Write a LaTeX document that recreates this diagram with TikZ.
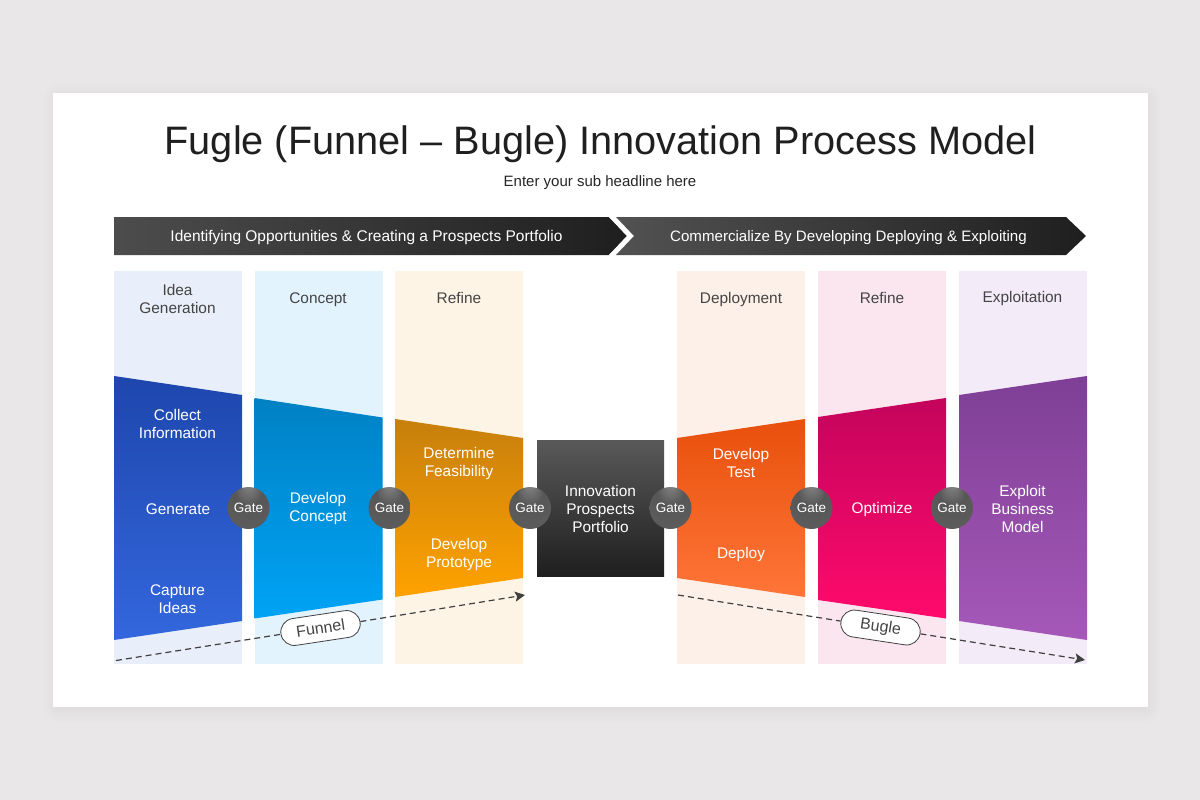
\documentclass[tikz,border=0pt]{standalone}
\usepackage{fontspec}
\setmainfont{Liberation Sans}
\usetikzlibrary{arrows.meta,shapes.misc}
\definecolor{bgc}{HTML}{E9E7E8}
\definecolor{txtc}{HTML}{444444}
\definecolor{la}{HTML}{E8EEFA}\definecolor{lb}{HTML}{E3F3FD}\definecolor{lc}{HTML}{FDF4E6}
\definecolor{ld}{HTML}{FDF0E8}\definecolor{le}{HTML}{FBE6F0}\definecolor{lf}{HTML}{F3EBF8}
\definecolor{at}{HTML}{1E46AD}\definecolor{ab}{HTML}{3367DD}
\definecolor{bt}{HTML}{0081C4}\definecolor{bb}{HTML}{00A3F5}
\definecolor{ct}{HTML}{C77F0C}\definecolor{cb}{HTML}{FFA200}
\definecolor{dt}{HTML}{E8500C}\definecolor{db}{HTML}{FF7538}
\definecolor{et}{HTML}{C4045C}\definecolor{eb}{HTML}{FF0A6C}
\definecolor{ft}{HTML}{7F3F96}\definecolor{fb}{HTML}{A558B8}
\pgfdeclareradialshading{gateball}{\pgfpoint{0bp}{28bp}}{
 color(0bp)=(black!48!white);
 color(9bp)=(black!58!white);
 color(16bp)=(black!66!white);
 color(50bp)=(black!62!white)}
\tikzset{
 every node/.style={font=\fontsize{15.4}{18}\selectfont,align=center,inner sep=0pt},
 lbl/.style={text=white},
 head/.style={text=txtc},
 gate/.style={circle,minimum size=42pt,shading=gateball,text=white,font=\fontsize{13.5}{16}\selectfont},
 pill/.style={draw=black!75,line width=.8pt,fill=white,rounded rectangle,minimum width=80pt,minimum height=27pt,text=txtc,font=\fontsize{16}{18}\selectfont},
 flow/.style={dash pattern=on 6pt off 4pt,draw=black!75,line width=1.2pt,-{Stealth[length=10pt,width=10pt,inset=2pt]}},
}
\newcommand{\softshadow}[2][.0018]{\foreach \w in {4,8,...,28}{\draw[line width=\w pt,black,opacity=#1,line join=round] #2;}}
\newcommand{\lightpanel}[2]{\fill[#2] (#1,271) rectangle ++(128,393);}
\begin{document}
\begin{tikzpicture}[x=1pt,y=-1pt]
\useasboundingbox (0,0) rectangle (1200,800);
\fill[bgc] (0,0) rectangle (1200,800);
% card
\foreach \w in {3,6,...,30}{\draw[line width=\w pt,black,opacity=.004,line join=round] (58,99) rectangle (1146,707);}
\fill[white] (53,93) rectangle (1148,707);
% title
\node (title) at (600.5,144) {\fontsize{39.7}{44}\selectfont\color{black!88}Fugle (Funnel -- Bugle) Innovation Process Model};
\node (sub) at (600,183) {\fontsize{15}{18}\selectfont\color{black!85}Enter your sub headline here};
% arrow band
\softshadow{(114,217) -- (609,217) -- (627,236) -- (609,255) -- (114,255) -- cycle}
\softshadow{(616,217) -- (1066,217) -- (1086,236) -- (1066,255) -- (616,255) -- cycle}
\shade[left color=black!70,right color=black!88] (114,217) -- (609,217) -- (627,236) -- (609,255) -- (114,255) -- cycle;
\fill[white] (609,217) -- (616,217) -- (634,236) -- (616,255) -- (609,255) -- (627,236) -- cycle;
\shade[left color=black!68,right color=black!88] (616,217) -- (1066,217) -- (1086,236) -- (1066,255) -- (616,255) -- (634,236) -- cycle;
\node[lbl] (bandA) at (366.5,237) {\fontsize{15.5}{18}\selectfont Identifying Opportunities \& Creating a Prospects Portfolio};
\node[lbl] (bandB) at (848.5,238) {\fontsize{15.1}{18}\selectfont Commercialize By Developing Deploying \& Exploiting};
% light panels
\lightpanel{114}{la}
\lightpanel{254.5}{lb}
\lightpanel{395}{lc}
\lightpanel{677}{ld}
\lightpanel{818}{le}
\lightpanel{959}{lf}
% coloured panels
\softshadow{(114,376) -- (242,395) -- (242,621) -- (114,640) -- cycle}
\softshadow{(254.5,398) -- (382.5,417.5) -- (382.5,599.5) -- (254.5,618.5) -- cycle}
\softshadow{(395,419) -- (523,438) -- (523,578) -- (395,597) -- cycle}
\softshadow{(677,438) -- (805,419) -- (805,597) -- (677,578) -- cycle}
\softshadow{(818,417) -- (946,398) -- (946,618.5) -- (818,600) -- cycle}
\softshadow{(959,395) -- (1087,376) -- (1087,640) -- (959,621) -- cycle}
\softshadow{(537,440) rectangle (664,576)}
\shade[top color=at,bottom color=ab] (114,376) -- (242,395) -- (242,621) -- (114,640) -- cycle;
\shade[top color=bt,bottom color=bb] (254.5,398) -- (382.5,417.5) -- (382.5,599.5) -- (254.5,618.5) -- cycle;
\shade[top color=ct,bottom color=cb] (395,419) -- (523,438) -- (523,578) -- (395,597) -- cycle;
\shade[top color=dt,bottom color=db] (677,438) -- (805,419) -- (805,597) -- (677,578) -- cycle;
\shade[top color=et,bottom color=eb] (818,417) -- (946,398) -- (946,618.5) -- (818,600) -- cycle;
\shade[top color=ft,bottom color=fb] (959,395) -- (1087,376) -- (1087,640) -- (959,621) -- cycle;
\shade[top color=black!65,bottom color=black!88] (537,440) rectangle (664,576);
% headings
\node[head] (h1) at (177.5,298.5) {Idea\\Generation};
\node[head] (h2) at (318,300) {Concept};
\node[head] (h3) at (459,298) {Refine};
\node[head] (h4) at (741,299.5) {Deployment};
\node[head] (h5) at (882,298) {Refine};
\node[head] (h6) at (1022.5,299) {Exploitation};
% labels
\node[lbl] (l1) at (177.5,423.5) {Collect\\Information};
\node[lbl] (l2) at (178,509) {Generate};
\node[lbl] (l3) at (177.5,599.5) {Capture\\Ideas};
\node[lbl] (l4) at (318,509) {Develop\\Concept};
\node[lbl] (l5) at (459,463.5) {Determine\\Feasibility};
\node[lbl] (l6) at (459,554.5) {Develop\\Prototype};
\node[lbl] (center) at (600.5,508.5) {Innovation\\Prospects\\Portfolio};
\node[lbl] (l7) at (741,463) {Develop\\Test};
\node[lbl] (l8) at (741,555) {Deploy};
\node[lbl] (l9) at (882,509.5) {Optimize};
\node[lbl] (l10) at (1022.5,508.5) {Exploit\\Business\\Model};
% gates
\node[gate] (g1) at (248.5,508) {\raisebox{-1pt}{Gate}};
\node[gate] (g2) at (389.5,508) {\raisebox{-1pt}{Gate}};
\node[gate] (g3) at (530,508) {\raisebox{-1pt}{Gate}};
\node[gate] (g4) at (670.5,508) {\raisebox{-1pt}{Gate}};
\node[gate] (g5) at (811.5,508) {\raisebox{-1pt}{Gate}};
\node[gate] (g6) at (952,508) {\raisebox{-1pt}{Gate}};
% flow arrows
\coordinate (fs) at (116,660.5);
\coordinate (fe) at (525,595);
\coordinate (bs) at (678,595);
\coordinate (be) at (1085,660);
\node[pill,rotate=8.6] (funnel) at (320.5,628) {Funnel};
\node[pill,rotate=-8.6] (bugle) at (880.5,627.5) {Bugle};
\draw[flow,-] (fs) -- (funnel);
\draw[flow] (funnel) -- (fe);
\draw[flow,-] (bs) -- (bugle);
\draw[flow] (bugle) -- (be);
\end{tikzpicture}
\end{document}
